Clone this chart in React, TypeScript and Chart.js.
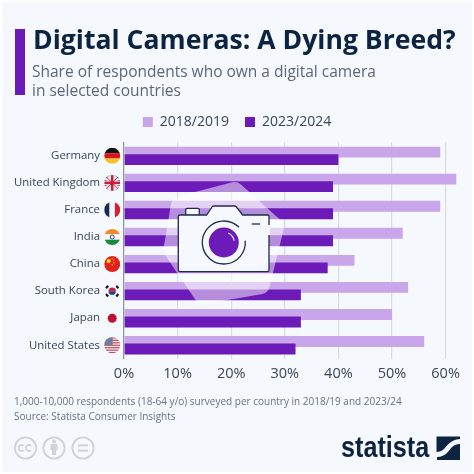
import React, { useEffect, useRef } from "react";
import { Chart, registerables } from "chart.js";

Chart.register(...registerables);

const countries = ["Germany", "United Kingdom", "France", "India", "China", "South Korea", "Japan", "United States"];
const flagCodes = ["de", "uk", "fr", "in", "cn", "kr", "jp", "us"];
const share2018 = [59, 62, 59, 52, 43, 53, 50, 56];
const share2023 = [40, 39, 39, 39, 38, 33, 33, 32];
const seriesNames = ["2018/2019", "2023/2024"];
const xTicks = [0, 10, 20, 30, 40, 50, 60];

const FONT = "'Open Sans', sans-serif";
const BG = "#f5f8fc";
const LIGHT = "#c9a5ea";
const DARK = "#6c1bb8";
const NAVY = "#0d2440";

function drawFlag(ctx: CanvasRenderingContext2D, code: string, cx: number, cy: number) {
  const r = 8;
  const L = cx - r, T = cy - r, S = 2 * r;
  ctx.save();
  ctx.beginPath();
  ctx.arc(cx, cy, code === "jp" ? 4.5 : r, 0, Math.PI * 2);
  ctx.clip();
  const band = (c: string, x: number, y: number, w: number, h: number) => {
    ctx.fillStyle = c;
    ctx.fillRect(x, y, w, h);
  };
  if (code === "de") {
    band("#111", L, T, S, S / 3);
    band("#d8141c", L, T + S / 3, S, S / 3);
    band("#f6c21c", L, T + (2 * S) / 3, S, S / 3);
  } else if (code === "uk") {
    band("#f4f2f6", L, T, S, S);
    ctx.fillStyle = "#2b3a78";
    [[-1, -1], [1, -1], [-1, 1], [1, 1]].forEach(([a, b]) => {
      ctx.beginPath();
      ctx.moveTo(cx + a * 2, cy + b * 8);
      ctx.lineTo(cx + a * 7, cy + b * 8);
      ctx.lineTo(cx + a * 7, cy + b * 4);
      ctx.closePath();
      ctx.fill();
      ctx.beginPath();
      ctx.moveTo(cx + a * 8, cy + b * 2);
      ctx.lineTo(cx + a * 8, cy + b * 3);
      ctx.lineTo(cx + a * 4, cy + b * 2);
      ctx.closePath();
      ctx.fill();
    });
    ctx.strokeStyle = "#c8203a";
    ctx.lineWidth = 1;
    ctx.beginPath();
    ctx.moveTo(L, T);
    ctx.lineTo(L + S, T + S);
    ctx.moveTo(L + S, T);
    ctx.lineTo(L, T + S);
    ctx.stroke();
    band("#c8203a", cx - 1.3, T, 2.6, S);
    band("#c8203a", L, cy - 1.3, S, 2.6);
  } else if (code === "fr") {
    band("#17295c", L, T, S / 3, S);
    band("#f6f6fa", L + S / 3, T, S / 3, S);
    band("#d3222e", L + (2 * S) / 3, T, S / 3, S);
  } else if (code === "in") {
    band("#f58a2a", L, T, S, S / 3);
    band("#f7f7f7", L, T + S / 3, S, S / 3);
    band("#168a3a", L, T + (2 * S) / 3, S, S / 3);
    ctx.strokeStyle = "#2a3a80";
    ctx.lineWidth = 0.9;
    ctx.beginPath();
    ctx.arc(cx, cy, 2, 0, Math.PI * 2);
    ctx.stroke();
  } else if (code === "cn") {
    band("#e3201b", L, T, S, S);
    ctx.fillStyle = "#f7d21e";
    ctx.beginPath();
    ctx.arc(cx - 3.5, cy - 3, 2.2, 0, Math.PI * 2);
    ctx.fill();
    [[0, -5.5], [1.6, -3.6], [1.6, -1.2], [0, 0.6]].forEach(([dx, dy]) => {
      ctx.beginPath();
      ctx.arc(cx + dx, cy + dy, 0.7, 0, Math.PI * 2);
      ctx.fill();
    });
  } else if (code === "kr") {
    band(BG, L, T, S, S);
    ctx.fillStyle = "#c8233c";
    ctx.beginPath();
    ctx.arc(cx, cy, 3.7, Math.PI, 0);
    ctx.fill();
    ctx.fillStyle = "#2a3f8c";
    ctx.beginPath();
    ctx.arc(cx, cy, 3.7, 0, Math.PI);
    ctx.fill();
    ctx.fillStyle = "#1a1a1a";
    [[-1, -1], [1, -1], [-1, 1], [1, 1]].forEach(([a, b]) => {
      ctx.save();
      ctx.translate(cx + a * 5.2, cy + b * 4.2);
      ctx.rotate((a * b * Math.PI) / 4 * -1);
      ctx.fillRect(-1.6, -1.2, 3.2, 2.4);
      ctx.restore();
    });
  } else if (code === "jp") {
    band("#bf1230", L, T, S, S);
  } else if (code === "us") {
    band("#f5f2f4", L, T, S, S);
    for (let i = 0; i < 7; i++) band("#c9485a", L, T + i * 2.46, S, 1.23);
    band("#6f7fa0", L, T, 8.5, 8);
  }
  ctx.restore();
}

function roundedPoly(ctx: CanvasRenderingContext2D, pts: number[][], radius: number) {
  const n = pts.length;
  const a = pts[n - 1], b = pts[0];
  ctx.beginPath();
  ctx.moveTo((a[0] + b[0]) / 2, (a[1] + b[1]) / 2);
  for (let i = 0; i < n; i++) {
    const p = pts[i], q = pts[(i + 1) % n];
    ctx.arcTo(p[0], p[1], (p[0] + q[0]) / 2, (p[1] + q[1]) / 2, radius);
  }
  ctx.closePath();
}

function drawCamera(ctx: CanvasRenderingContext2D) {
  ctx.save();
  ctx.fillStyle = "rgba(255,255,255,0.5)";
  roundedPoly(ctx, [[237, 181], [285, 224], [268, 293], [199, 305], [163, 252], [172, 198]], 9);
  ctx.fill();

  const line = "#1f2c4c";
  ctx.strokeStyle = line;
  ctx.fillStyle = BG;
  ctx.lineWidth = 1.3;
  ctx.lineJoin = "round";
  ctx.beginPath();
  ctx.roundRect(185.7, 208.3, 13.6, 7, 1.5);
  ctx.fill();
  ctx.stroke();
  ctx.beginPath();
  ctx.moveTo(180, 215);
  ctx.lineTo(206.7, 215);
  ctx.lineTo(212.3, 206.5);
  ctx.quadraticCurveTo(213, 206, 214, 206);
  ctx.lineTo(234.5, 206);
  ctx.quadraticCurveTo(235.5, 206, 236, 206.5);
  ctx.lineTo(242.7, 215);
  ctx.lineTo(267.5, 215);
  ctx.quadraticCurveTo(269, 215, 269, 216.5);
  ctx.lineTo(269, 270);
  ctx.quadraticCurveTo(269, 271.7, 267.5, 271.7);
  ctx.lineTo(180, 271.7);
  ctx.quadraticCurveTo(178.3, 271.7, 178.3, 270);
  ctx.lineTo(178.3, 216.5);
  ctx.quadraticCurveTo(178.3, 215, 180, 215);
  ctx.closePath();
  ctx.fill();
  ctx.stroke();
  ctx.strokeStyle = BG;
  ctx.lineWidth = 2.4;
  ctx.beginPath();
  ctx.moveTo(269, 225);
  ctx.lineTo(269, 235);
  ctx.stroke();
  ctx.strokeStyle = line;
  ctx.lineWidth = 1.3;
  ctx.beginPath();
  ctx.moveTo(251.7, 224);
  ctx.lineTo(260, 224);
  ctx.stroke();
  const cx = 223.8, cy = 242.5;
  ctx.beginPath();
  ctx.arc(cx, cy, 21.5, (-5 * Math.PI) / 180, (-45 * Math.PI) / 180);
  ctx.stroke();
  ctx.fillStyle = DARK;
  ctx.beginPath();
  ctx.arc(cx, cy, 15, 0, Math.PI * 2);
  ctx.fill();
  ctx.strokeStyle = "#f3ecfb";
  ctx.lineWidth = 1.2;
  ctx.beginPath();
  ctx.arc(cx, cy, 10.5, (-65 * Math.PI) / 180, (-10 * Math.PI) / 180);
  ctx.stroke();
  ctx.restore();
}

function drawFooterMarks(ctx: CanvasRenderingContext2D) {
  ctx.save();
  const grey = "#ced3d8";
  ctx.strokeStyle = grey;
  ctx.fillStyle = grey;
  ctx.lineWidth = 1.8;
  [25.5, 54, 83].forEach((x) => {
    ctx.beginPath();
    ctx.arc(x, 448, 10.6, 0, Math.PI * 2);
    ctx.stroke();
  });
  ctx.beginPath();
  ctx.arc(54, 441.5, 2, 0, Math.PI * 2);
  ctx.fill();
  ctx.beginPath();
  ctx.roundRect(50.5, 444, 7, 6.5, 1);
  ctx.fill();
  ctx.fillRect(52, 449, 4, 6);
  ctx.fillRect(78, 444.3, 10, 2.2);
  ctx.fillRect(78, 449.5, 10, 2.2);
  [21.5, 29].forEach((x) => {
    ctx.beginPath();
    ctx.arc(x, 448, 3, Math.PI * 0.25, Math.PI * 1.75);
    ctx.stroke();
  });
  // Statista mark
  ctx.fillStyle = NAVY;
  ctx.beginPath();
  ctx.moveTo(436.5, 436.5);
  ctx.lineTo(460, 436.5);
  ctx.lineTo(460, 439);
  ctx.bezierCurveTo(450, 440, 447, 446, 444, 449);
  ctx.bezierCurveTo(442, 451, 439, 452, 436.5, 452);
  ctx.closePath();
  ctx.fill();
  ctx.beginPath();
  ctx.moveTo(460, 444);
  ctx.lineTo(460, 460);
  ctx.lineTo(437, 460);
  ctx.lineTo(437, 457);
  ctx.bezierCurveTo(446, 457, 449, 450, 452, 447);
  ctx.bezierCurveTo(454, 445, 457, 444, 460, 444);
  ctx.closePath();
  ctx.fill();
  ctx.restore();
}

const paintPlugin = {
  id: "paint",
  afterInit(chart: any) {
    const fit = chart.legend.fit;
    chart.legend.fit = function () {
      fit.call(this);
      this.height += 3.3;
    };
  },
  beforeDatasetsDraw(chart: any) {
    chart.getDatasetMeta(0).controller.draw();
    chart.getDatasetMeta(1).controller.draw();
    return false;
  },
  afterDraw(chart: any) {
    const ctx = chart.ctx;
    const y = chart.scales.y;
    flagCodes.forEach((code, i) => drawFlag(ctx, code, 112.2, y.getPixelForTick(i)));
    drawCamera(ctx);
    drawFooterMarks(ctx);
  },
};

const absText = (top: number, left: number, size: number, color: string, weight = 400): React.CSSProperties => ({
  position: "absolute",
  top,
  left,
  fontFamily: FONT,
  fontSize: size,
  color,
  fontWeight: weight,
  whiteSpace: "nowrap",
  lineHeight: 1,
  margin: 0,
});

export default function App() {
  const ref = useRef<HTMLCanvasElement>(null);
  useEffect(() => {
    const chart = new Chart(ref.current!, {
      type: "bar",
      data: {
        labels: countries,
        datasets: [
          { label: seriesNames[0], data: share2018, backgroundColor: LIGHT, categoryPercentage: 0.554, barPercentage: 1.447 },
          { label: seriesNames[1], data: share2023, backgroundColor: DARK, categoryPercentage: 0.554, barPercentage: 1.447 },
        ],
      },
      plugins: [paintPlugin],
      options: {
        indexAxis: "y",
        animation: false,
        responsive: false,
        layout: { padding: { top: 99, left: 0, right: 0, bottom: 84.8 } },
        plugins: {
          title: { display: false },
          tooltip: { enabled: false },
          legend: {
            display: true,
            position: "top",
            labels: { boxWidth: 10, boxHeight: 10, padding: 16, color: "#37465a", font: { family: FONT, size: 14 } },
          },
        },
        scales: {
          x: {
            type: "linear",
            min: 0,
            max: 65.3,
            grid: { color: "#d9dde3", lineWidth: 1.2, drawTicks: false },
            border: { display: false },
            ticks: {
              stepSize: 10,
              includeBounds: false,
              padding: 6.5,
              maxRotation: 0,
              color: "#37465a",
              font: { family: FONT, size: 14.5 },
              callback: (v: any) => (xTicks.includes(Number(v)) ? `${v}%` : ""),
            },
          },
          y: {
            grid: { display: false, drawTicks: false },
            border: { display: true, color: "#8d949e", width: 1.2 },
            afterFit(scale: any) {
              scale.width = 124;
            },
            ticks: {
              padding: 24,
              color: "#37465a",
              font: { family: FONT, size: 11.4 },
              autoSkip: false,
            },
          },
        },
      },
    } as any);
    return () => chart.destroy();
  }, []);

  return (
    <div style={{ position: "fixed", top: 0, left: 0, width: 474, height: 474, background: "#ffffff", overflow: "hidden" }}>
      <div style={{ position: "absolute", left: 2, top: 2, width: 470, height: 470, background: BG }} />
      <div style={{ position: "absolute", left: 14.5, top: 29, width: 10.5, height: 66, background: DARK }} />
      <canvas ref={ref} width={474} height={474} style={{ position: "absolute", left: 0, top: 0, width: 474, height: 474 }} />
      <h1 style={absText(26, 33, 26.6, NAVY, 700)}>Digital Cameras: A Dying Breed?</h1>
      <div style={absText(63.5, 32, 15.5, "#5b6779")}>Share of respondents who own a digital camera</div>
      <div style={absText(82.5, 32, 15.5, "#5b6779")}>in selected countries</div>
      <div style={absText(396, 14, 10, "#667284")}>1,000-10,000 respondents (18-64 y/o) surveyed per country in 2018/19 and 2023/24</div>
      <div style={absText(411, 14, 10, "#667284")}>Source: Statista Consumer Insights</div>
      <div style={{ ...absText(433, 341, 29, NAVY, 700), fontFamily: "'Liberation Sans', sans-serif", transform: "scaleX(0.868)", transformOrigin: "left top" }}>statista</div>
    </div>
  );
}
